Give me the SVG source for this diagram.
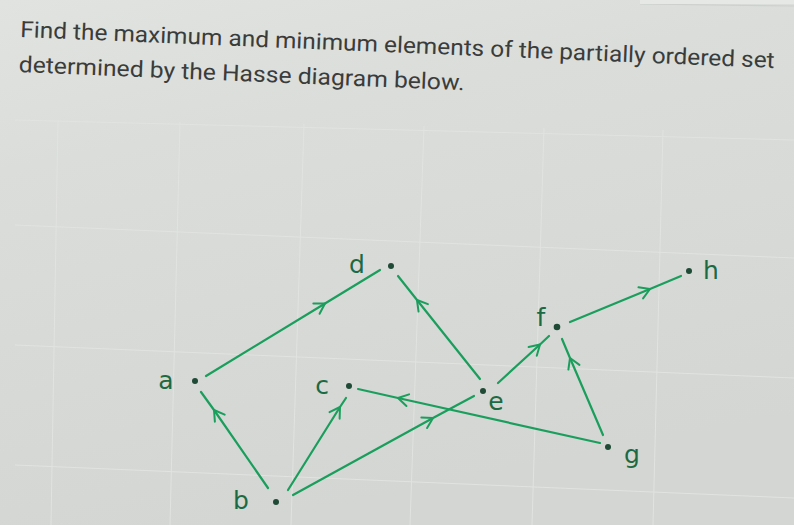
<svg xmlns="http://www.w3.org/2000/svg" width="794" height="525" viewBox="0 0 794 525">
<defs>
<linearGradient id="bg" x1="0" y1="0" x2="0.3" y2="1">
<stop offset="0" stop-color="#e1e3e0"/>
<stop offset="0.3" stop-color="#dadddA"/>
<stop offset="1" stop-color="#d3d6d3"/>
</linearGradient>
<marker id="chev" viewBox="-12 -8 14 16" markerWidth="14" markerHeight="16" refX="0" refY="0" orient="auto" markerUnits="userSpaceOnUse">
<path d="M-10,-6 L0,0 L-10,6" fill="none" stroke="#1a9e5c" stroke-width="2" stroke-linecap="round" stroke-linejoin="round"/>
</marker>
</defs>
<style>
.q{font-family:Roboto,"Open Sans","Liberation Sans",sans-serif;font-size:22.5px;fill:#3a3c3b}
.e{fill:none;stroke:#1a9e5c;stroke-width:2.2;stroke-linecap:round;marker-mid:url(#chev)}
.grid{stroke:#e1e3e0;stroke-width:1;fill:none}
.lbl{font-family:"DejaVu Sans","Liberation Sans",sans-serif;font-size:25px;fill:#1b6a44;text-anchor:middle}
.dot{fill:#1f4a36}
</style>
<rect width="794" height="525" fill="url(#bg)"/>
<path d="M640,4 L794,6" stroke="#cdd0cd" stroke-width="1.2"/>
<rect x="640" y="0" width="154" height="4" fill="#e6e8e5"/>
<g class="grid">
<path d="M58,120 L51,525"/>
<path d="M180,122 L170,525"/>
<path d="M304,124 L291,525"/>
<path d="M424,126 L410,525"/>
<path d="M544,128 L532,525"/>
<path d="M663,130 L653,525"/>
<path d="M15,225 L794,258"/>
<path d="M15,345 L794,378"/>
<path d="M15,465 L794,498"/>
<path d="M15,120 L794,140"/>
</g>
<g transform="rotate(2.35 20 37)">
<text class="q" x="20" y="37" textLength="755" lengthAdjust="spacingAndGlyphs">Find the maximum and minimum elements of the partially ordered set</text>
<text class="q" x="20" y="72" textLength="446" lengthAdjust="spacingAndGlyphs">determined by the Hasse diagram below.</text>
</g>
<g id="connectors">
<path class="e" d="M206,376 L325,303.5 L380,270"/>
<path class="e" d="M268,488 L214,410 L201,392"/>
<path class="e" d="M288,490 L340,407 L346,398"/>
<path class="e" d="M293,495 L433,418 L474,396"/>
<path class="e" d="M480,379 L417,300 L398,276" stroke-width="2.8"/>
<path class="e" d="M600,443 L398,398 L358,389"/>
<path class="e" d="M498,383 L540,344.5 L549,336"/>
<path class="e" d="M603,435 L570,358 L562,339" stroke-width="3"/>
<path class="e" d="M570,322 L650,289 L681,276"/>
</g>
<g id="node-a"><circle class="dot" cx="195" cy="381" r="3"/><text class="lbl" x="166" y="389">a</text></g>
<g id="node-b"><circle class="dot" cx="276" cy="502" r="3"/><text class="lbl" x="241" y="509">b</text></g>
<g id="node-c"><circle class="dot" cx="349" cy="386" r="3"/><text class="lbl" x="322" y="394">c</text></g>
<g id="node-d"><circle class="dot" cx="391" cy="266" r="3"/><text class="lbl" x="357" y="273">d</text></g>
<g id="node-e"><circle class="dot" cx="483" cy="391" r="3"/><text class="lbl" x="496" y="410">e</text></g>
<g id="node-f"><circle class="dot" cx="557" cy="327" r="3.3"/><text class="lbl" x="541" y="326">f</text></g>
<g id="node-g"><circle class="dot" cx="608" cy="447" r="3"/><text class="lbl" x="632" y="463">g</text></g>
<g id="node-h"><circle class="dot" cx="689" cy="271" r="3"/><text class="lbl" x="711" y="279">h</text></g>
</svg>
